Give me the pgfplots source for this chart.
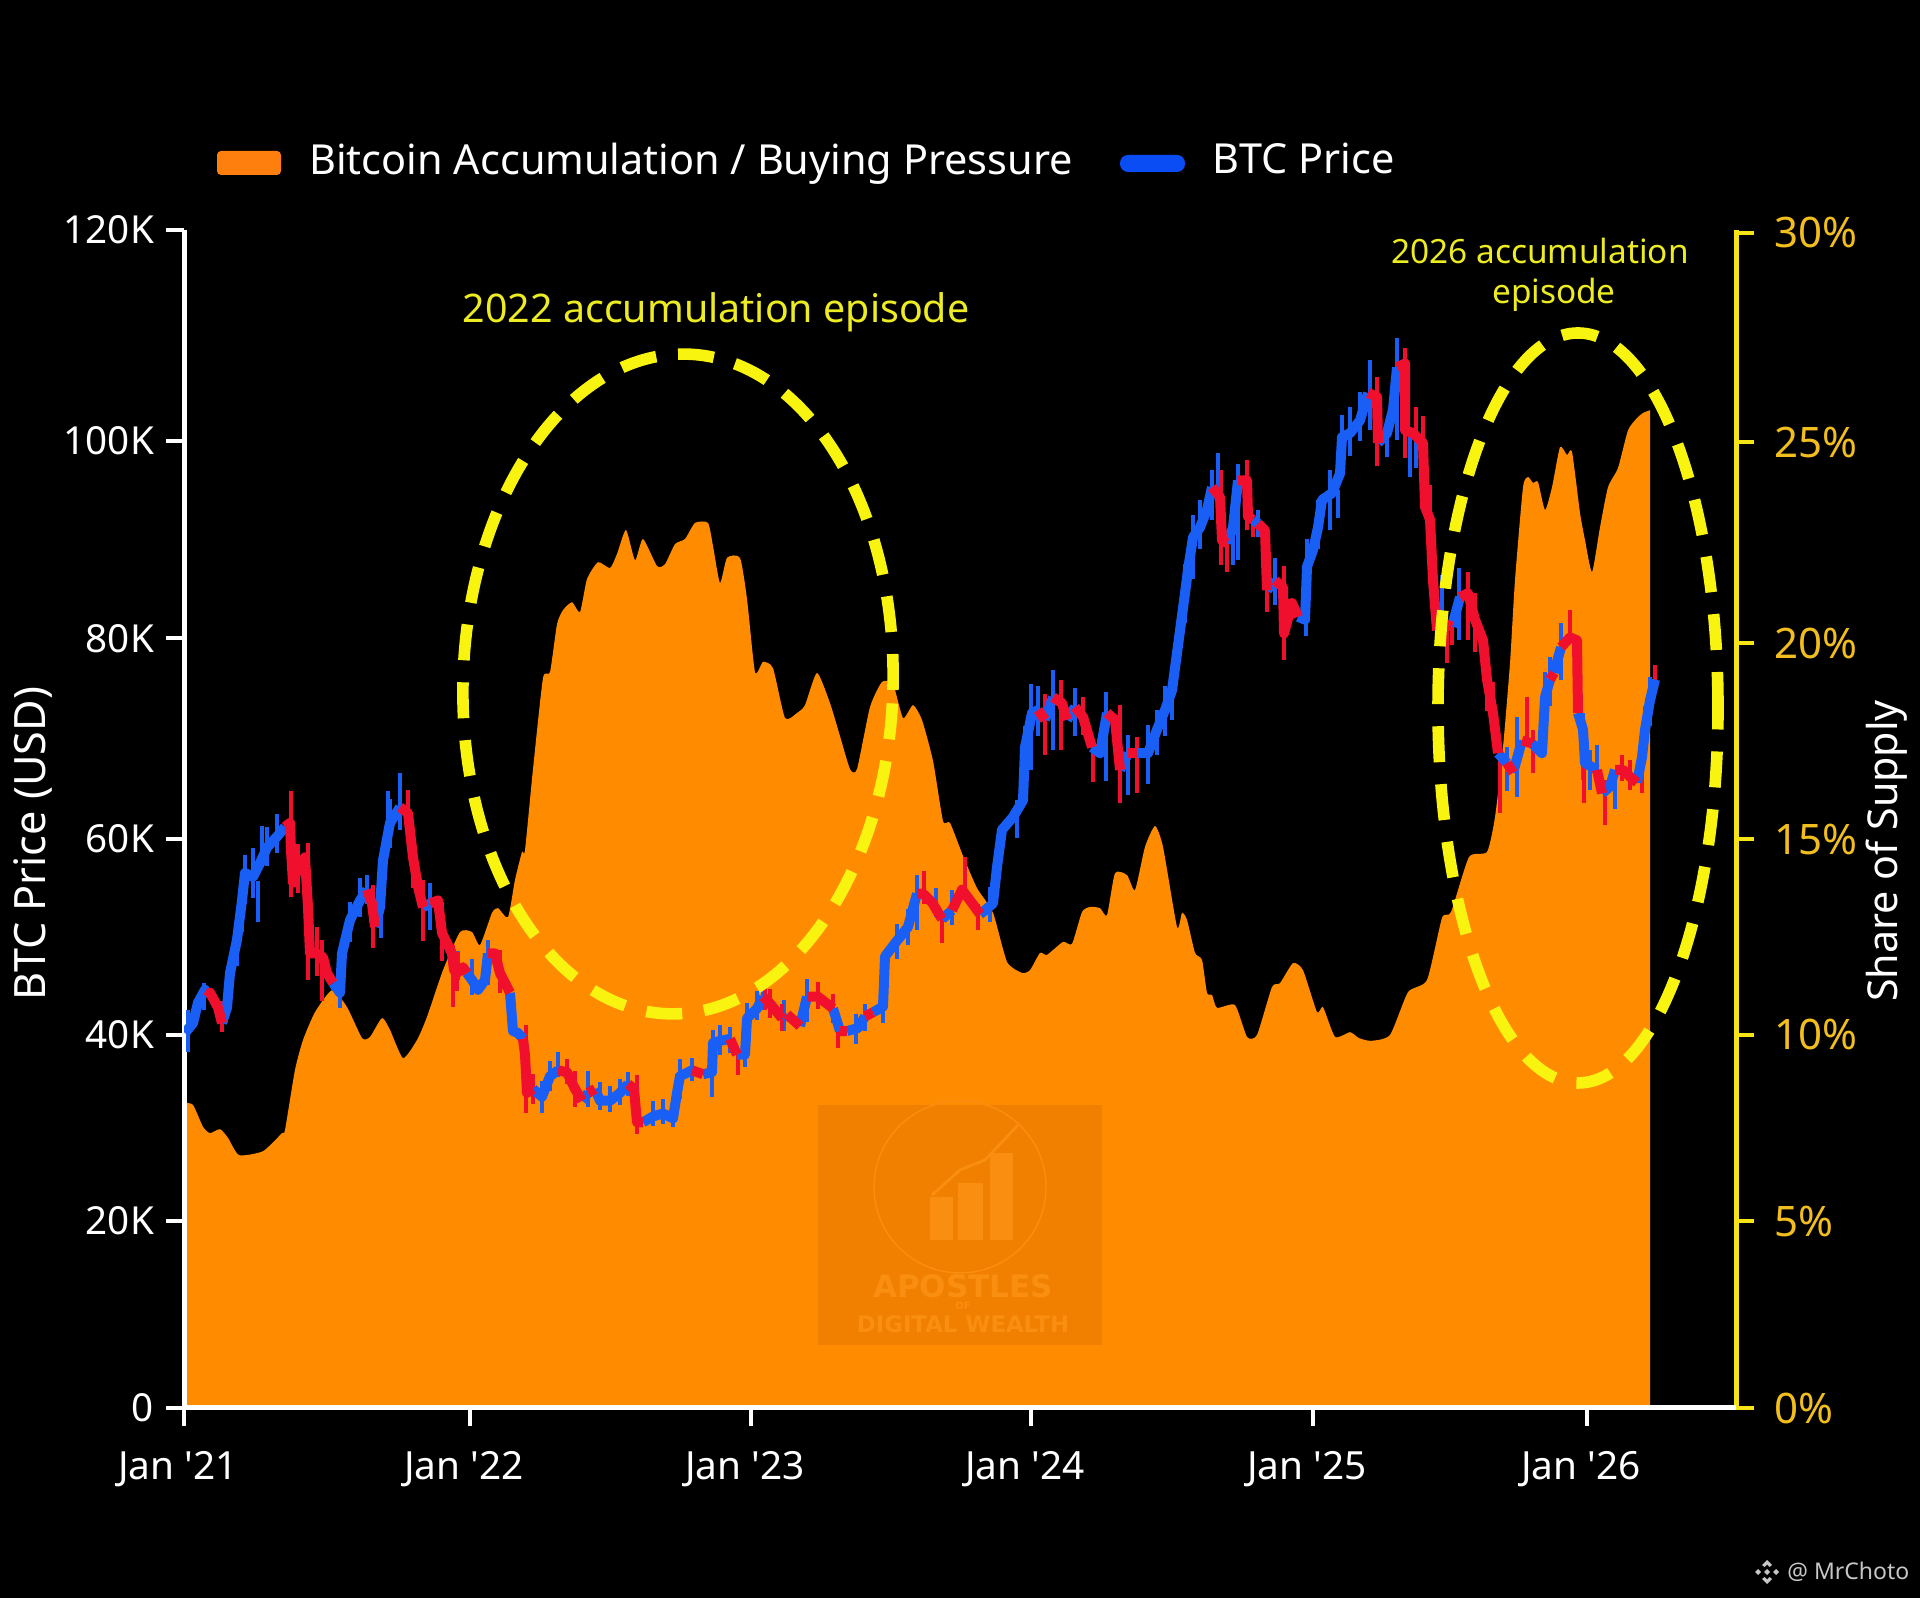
\documentclass[border=0pt]{standalone}
\usepackage{pgfplots}
\usepackage{pgfplotstable}
\usepackage{fontspec}
\setmainfont[Ligatures=TeXOff]{Noto Sans}
\pgfplotsset{compat=1.18}
\definecolor{areaO}{HTML}{FF8C00}
\definecolor{legO}{HTML}{FF7F0E}
\definecolor{legB}{HTML}{0B4DF5}
\definecolor{btcblue}{HTML}{1A5FF5}
\definecolor{btcred}{HTML}{F0102E}
\definecolor{dashY}{HTML}{F8F410}
\definecolor{axY}{HTML}{F6E416}
\definecolor{tickY}{HTML}{F2BE1E}
\definecolor{noteY}{HTML}{EDEB22}
\definecolor{wmA}{HTML}{F18000}
\definecolor{wmB}{HTML}{F98E10}
\pgfplotstableread{
x s
0 7.77
9 7.72
19 7.16
26 7.00
36 7.10
44 6.88
55 6.44
79 6.54
98 7.00
101 7.08
111 8.61
119 9.37
131 10.08
148 10.64
163 10.21
178 9.42
186 9.45
198 9.93
206 9.63
219 8.91
233 9.37
243 9.96
259 11.15
276 12.12
288 12.12
296 11.79
308 12.61
314 12.73
324 12.50
331 13.45
338 14.16
341 14.21
349 16.27
359 18.59
366 18.74
373 19.96
379 20.32
388 20.52
396 20.27
403 21.11
414 21.54
426 21.39
433 21.75
442 22.36
451 21.59
459 22.13
473 21.44
481 21.49
491 22.00
501 22.13
511 22.54
524 22.54
529 21.95
536 21.01
543 21.65
556 21.65
563 20.60
571 18.74
579 19.00
589 18.84
601 17.57
613 17.70
621 17.90
633 18.72
646 17.95
656 17.11
666 16.27
673 16.27
686 17.85
698 18.49
709 18.44
719 17.57
729 17.90
738 17.52
749 16.48
759 14.95
766 14.90
779 14.06
793 13.24
809 12.61
823 11.36
838 11.08
846 11.15
856 11.59
863 11.54
879 11.87
888 11.82
898 12.63
906 12.76
916 12.73
923 12.55
931 13.62
943 13.57
951 13.19
961 14.29
971 14.82
979 14.29
993 12.25
998 12.61
1003 12.43
1011 11.59
1018 11.41
1023 10.57
1028 10.52
1033 10.19
1051 10.26
1063 9.45
1073 9.50
1088 10.72
1096 10.82
1109 11.33
1119 11.15
1133 10.08
1139 10.21
1151 9.45
1166 9.57
1175 9.42
1187 9.35
1206 9.50
1224 10.59
1243 10.90
1258 12.48
1267 12.63
1285 14.03
1303 14.16
1311 15.05
1319 16.83
1326 18.97
1331 21.09
1339 23.45
1344 23.71
1349 23.56
1354 23.58
1361 22.87
1368 23.45
1376 24.47
1383 24.27
1388 24.35
1396 22.79
1401 22.10
1408 21.29
1416 22.43
1424 23.45
1434 23.94
1444 24.90
1453 25.21
1459 25.34
1466 25.41
}\sharetable
\pgfplotstableread{
x y
1 38.2
9 39.2
14 41.3
21 42.6
24 41.9
nan nan
38 39.2
43 40.8
46 44.3
53 47.7
58 51.7
61 54.5
69 54.1
76 55.5
83 57.1
93 58.2
101 59.2
nan nan
149 43.3
156 42.3
158 46.3
166 49.7
176 51.7
183 52.8
nan nan
191 49.0
196 51.0
199 55.8
206 59.6
216 61.2
nan nan
239 51.0
246 51.4
nan nan
283 44.3
288 43.6
294 42.6
301 43.6
304 46.3
nan nan
326 42.3
329 38.4
334 38.2
339 37.6
nan nan
349 32.5
358 31.7
366 33.8
374 34.4
nan nan
398 31.3
404 32.1
nan nan
411 32.5
416 31.3
426 31.3
436 32.1
444 33.0
nan nan
459 29.1
469 29.7
479 30.0
489 29.5
493 32.1
496 33.8
508 34.4
nan nan
519 34.0
528 34.2
529 37.2
536 37.4
546 37.6
nan nan
553 36.0
561 36.0
563 39.7
573 40.7
579 41.9
nan nan
598 39.7
603 40.1
nan nan
616 38.9
623 41.9
nan nan
649 40.7
656 38.4
nan nan
663 38.4
674 38.7
681 39.9
nan nan
689 40.3
699 40.9
701 46.0
713 47.6
724 49.0
733 52.4
nan nan
758 49.8
768 50.7
nan nan
796 50.3
801 50.7
809 51.4
813 55.1
818 58.9
829 60.2
839 61.9
841 67.3
848 70.8
854 71.1
nan nan
861 70.1
869 72.4
nan nan
883 70.1
891 71.4
nan nan
908 67.3
916 66.7
923 70.8
nan nan
936 65.0
944 66.7
nan nan
953 66.7
964 66.7
973 69.1
981 71.1
988 73.1
996 79.2
1001 83.0
1004 85.4
1009 88.7
1016 89.7
1023 91.5
1028 93.8
nan nan
1043 88.1
1049 89.7
1054 94.5
nan nan
1069 90.5
1074 90.1
nan nan
1083 83.3
1091 84.3
nan nan
1114 80.6
1121 80.3
1123 85.7
1129 87.4
1134 89.7
1138 92.5
1148 93.2
1156 95.2
1158 98.9
1166 99.3
1176 100.6
1184 103.4
nan nan
1194 98.3
1203 99.3
1209 101.7
1213 106.0
nan nan
1253 79.2
1258 80.0
nan nan
1268 79.6
1276 82.6
nan nan
1314 66.7
1323 65.7
nan nan
1329 64.7
1338 68.0
nan nan
1348 67.7
1358 66.7
1361 72.4
1366 74.2
nan nan
1370 74.9
1377 77.5
nan nan
1394 70.8
1399 69.1
1401 65.7
1413 65.0
nan nan
1418 62.6
1426 63.3
1431 65.0
nan nan
1453 63.7
1458 66.3
1461 69.1
1466 72.1
1471 74.2
}\blueprice
\pgfplotstableread{
x y
24 41.9
26 42.3
34 40.8
38 39.2
nan nan
101 59.2
106 59.6
107 56.8
109 53.5
114 55.1
121 56.1
124 51.0
126 46.3
133 46.3
139 45.9
143 44.3
149 43.3
nan nan
183 52.8
188 51.4
191 49.0
nan nan
216 61.2
224 60.6
229 56.1
234 53.1
239 51.0
nan nan
246 51.4
254 51.7
258 48.4
268 46.3
270 44.6
273 44.3
279 44.9
283 44.3
nan nan
304 46.3
311 46.3
316 44.3
326 42.3
nan nan
339 37.6
341 36.0
343 32.1
349 32.5
nan nan
374 34.4
383 34.2
391 32.5
398 31.3
nan nan
404 32.1
411 32.5
nan nan
444 33.0
450 32.5
453 29.1
459 29.1
nan nan
508 34.4
519 34.0
nan nan
546 37.6
553 36.0
nan nan
579 41.9
586 41.2
598 39.7
nan nan
603 40.1
616 38.9
nan nan
623 41.9
634 41.9
649 40.7
nan nan
656 38.4
663 38.4
nan nan
681 39.9
689 40.3
nan nan
733 52.4
739 52.4
748 51.5
758 49.8
nan nan
768 50.7
778 52.8
789 51.3
796 50.3
nan nan
854 71.1
861 70.1
nan nan
869 72.4
878 71.8
883 70.1
nan nan
891 71.4
899 70.4
908 67.3
nan nan
923 70.8
931 70.1
936 65.0
nan nan
944 66.7
953 66.7
nan nan
1028 93.8
1036 92.8
1038 88.4
1043 88.1
nan nan
1054 94.5
1063 94.5
1064 90.8
1069 90.5
nan nan
1074 90.1
1081 89.4
1083 83.3
nan nan
1091 84.3
1099 83.6
1100 78.9
1108 82.0
1114 80.6
nan nan
1184 103.4
1193 103.0
1194 98.3
nan nan
1213 106.0
1221 106.4
1221 99.6
1229 99.3
1239 98.3
1241 91.8
1246 90.5
1249 84.3
1253 79.2
nan nan
1258 80.0
1268 79.6
nan nan
1276 82.6
1284 83.0
1291 80.3
1299 78.2
1303 74.2
1309 70.8
1314 66.7
nan nan
1323 65.7
1329 64.7
nan nan
1338 68.0
1348 67.7
nan nan
1366 74.2
1370 74.9
nan nan
1377 77.5
1386 78.5
1393 78.2
1394 70.8
nan nan
1413 65.0
1418 62.6
nan nan
1431 65.0
1439 65.0
1446 64.3
1453 63.7
}\redprice
\pgfplotstableread{
x y e
4 38.4 2.1
20 41.9 1.4
42 40.4 1.2
61 53.8 2.5
74 51.6 2.1
78 57.6 1.7
156 43.4 2.7
183 52.8 1.5
197 49.6 1.7
204 60.9 2.0
216 61.8 2.9
246 51.1 2.4
274 45.1 1.5
288 43.9 1.8
304 45.4 2.3
701 43.6 3.1
733 51.5 2.8
833 60.0 1.9
847 69.4 4.4
869 71.1 4.1
891 70.9 2.4
922 68.4 4.5
944 65.5 3.1
964 66.6 3.0
973 68.8 2.3
988 72.1 2.0
1009 87.7 3.3
1028 93.0 2.5
1034 95.4 1.9
1054 91.3 4.9
1049 88.2 2.3
1074 90.1 1.4
1091 84.2 2.4
1122 81.2 2.6
1146 92.5 3.1
1154 92.1 1.4
1158 98.9 2.3
1186 103.2 3.6
1203 98.5 1.6
1213 103.8 5.2
1232 97.2 1.4
1226 97.2 2.4
1275 81.9 3.7
1258 82.6 2.3
1323 65.1 2.2
1333 66.3 4.1
1377 77.1 2.9
1399 67.4 3.4
1406 65.0 2.0
1431 63.0 2.0
358 31.7 1.6
366 33.8 1.5
374 35.0 1.3
404 32.5 1.8
416 31.8 1.4
426 31.5 1.3
436 32.2 1.3
444 33.0 1.2
469 30.0 1.3
479 30.2 1.3
489 29.8 1.2
493 32.0 2.0
496 33.5 2.0
508 34.5 1.2
528 33.5 1.8
529 37.0 1.5
536 37.5 1.5
546 37.5 1.3
561 36.5 1.8
563 39.5 1.8
573 41.0 1.5
579 42.0 1.5
600 40.0 1.6
623 41.5 2.2
672 38.6 1.5
681 39.8 1.4
699 41.0 1.8
713 47.5 1.8
724 49.0 1.8
752 51.5 1.5
768 51.0 1.8
806 51.3 1.8
53 47.5 2.5
58 51.5 3.0
69 54.5 2.5
83 57.2 2.0
93 58.5 2.0
166 49.5 2.0
176 52.0 2.0
206 59.5 2.5
841 66.5 3.0
854 71.0 2.5
981 71.0 2.5
1001 83.0 3.0
1016 90.0 2.5
1123 85.5 3.0
1134 90.0 2.5
1166 99.5 2.5
1176 101.0 2.5
1361 72.5 2.5
1366 74.0 2.5
1413 65.5 2.0
1461 69.0 2.5
1466 72.0 2.5
}\bluewick
\pgfplotstableread{
x y e
107 57.5 5.4
124 50.6 7.0
138 44.6 3.1
38 39.9 1.6
189 50.1 3.2
224 60.7 2.3
239 50.7 3.1
269 44.0 3.2
342 34.5 4.5
453 30.9 3.0
581 41.8 1.3
654 38.1 1.4
554 35.2 1.3
758 48.8 1.4
781 54.2 1.9
740 53.0 1.7
794 50.0 1.3
861 69.6 3.1
877 70.6 3.6
899 70.5 1.9
909 65.9 2.1
936 66.6 5.0
953 65.5 2.9
1037 90.7 4.8
1043 86.8 1.6
1063 93.0 3.6
1069 89.6 0.9
1083 82.2 1.1
1100 81.0 4.8
1193 100.5 4.5
1221 102.4 5.6
1232 100.3 1.7
1239 98.8 2.2
1284 81.7 3.5
1268 79.0 1.3
1263 78.1 2.2
1316 63.3 2.7
1343 70.2 2.2
1349 66.9 2.2
1386 79.8 1.5
1400 64.8 3.2
1421 61.7 2.3
1438 65.2 1.3
1458 63.8 1.2
1471 74.4 1.3
114 55.0 2.5
133 46.5 2.5
229 56.0 3.0
258 48.5 3.0
273 44.5 2.0
316 44.5 2.2
349 32.5 1.5
383 34.3 1.3
391 32.5 1.8
634 42.0 1.4
649 40.7 1.5
586 41.2 1.5
598 39.8 1.4
1246 90.0 4.0
1249 84.5 4.0
1291 80.0 3.0
1303 74.0 3.0
1309 71.0 3.0
1446 64.5 1.5
}\redwick
\begin{document}
\begin{tikzpicture}[font=\fontsize{18}{21}\selectfont]
\path[use as bounding box, fill=black] (0,0) rectangle (960pt,799pt);
% share of supply: area and right axis
\begin{axis}[
  at={(92pt,95pt)}, anchor=south west, scale only axis,
  width=776pt, height=589pt,
  xmin=0, xmax=1552, ymin=0, ymax=30,
  axis x line=none, axis y line*=right,
  axis line style={-, draw=axY, line width=2.5pt},
  ytick={0,4.76,9.5,14.49,19.48,24.6,29.93},
  yticklabels={0\%,5\%,10\%,15\%,20\%,25\%,30\%},
  tick align=outside, major tick length=9pt,
  ytick style={draw=axY, line width=2pt},
  yticklabel style={text=tickY, font=\fontsize{21}{24}\selectfont, xshift=6.5pt},
]
\addplot[fill=areaO, draw=none, smooth, tension=0.35] table[x=x, y=s] {\sharetable} \closedcycle;
\end{axis}
% watermark
\begin{scope}[x=0.5pt, y=-0.5pt, shift={(0,799pt)}]
\fill[wmA] (818,1105) rectangle (1102,1345);
\draw[wmB, line width=0.7pt] (960,1187) circle[radius=43pt];
\fill[wmB] (930,1197) rectangle (953,1240);
\fill[wmB] (958,1183) rectangle (983,1240);
\fill[wmB] (990,1153) rectangle (1013,1240);
\draw[wmB, line width=1.4pt] (932,1195) -- (960,1170) -- (985,1160) -- (1018,1125);
\node[text=wmB, inner sep=0pt, font=\fontsize{15.5}{15}\fontspec{DejaVu Sans Bold}] at (963,1286) {APOSTLES};
\node[text=wmB, inner sep=0pt, font=\fontsize{5}{5}\fontspec{DejaVu Sans Bold}] at (963,1306) {OF};
\node[text=wmB, inner sep=0pt, font=\fontsize{11.4}{12}\fontspec{DejaVu Sans Bold}] at (963,1324) {DIGITAL WEALTH};
\end{scope}
% BTC price: candles and left / bottom axes
\begin{axis}[
  at={(92pt,95pt)}, anchor=south west, scale only axis,
  width=776pt, height=589pt,
  xmin=0, xmax=1552, ymin=0, ymax=120,
  axis y line*=left, axis x line*=bottom,
  axis line style={-, draw=white, line width=2.5pt},
  unbounded coords=jump,
  xtick={0,286,567,847,1129,1403},
  xticklabels={{Jan '21},{Jan '22},{Jan '23},{Jan '24},{Jan '25},{Jan '26}},
  ytick={0,19.05,38,58,78.4,98.5,120},
  yticklabels={0,20K,40K,60K,80K,100K,120K},
  tick align=outside, major tick length=9pt,
  tick style={draw=white, line width=2pt},
  yticklabel style={text=white, font=\fontsize{19.3}{22}\selectfont, xshift=-2.5pt},
  xticklabel style={text=white, font=\fontsize{19.4}{22}\selectfont, xshift=-3pt, yshift=-9pt},
]
\addplot[draw=none, forget plot, error bars/.cd, y dir=both, y explicit, error mark=none,
  error bar style={draw=btcblue, line width=2pt}] table[x=x, y=y, y error=e] {\bluewick};
\addplot[draw=none, forget plot, error bars/.cd, y dir=both, y explicit, error mark=none,
  error bar style={draw=btcred, line width=2pt}] table[x=x, y=y, y error=e] {\redwick};
\addplot[draw=btcblue, line width=5pt, line join=round, forget plot] table[x=x, y=y] {\blueprice};
\addplot[draw=btcred, line width=5pt, line join=round, forget plot] table[x=x, y=y] {\redprice};
\end{axis}
% annotations, legend, labels
\begin{scope}[x=0.5pt, y=-0.5pt, shift={(0,799pt)}]
\draw[dashY, line width=5.8pt, dash pattern=on 18pt off 11pt]
  (678,684) ellipse[x radius=107.5pt, y radius=165pt, rotate=-1.6];
\draw[dashY, line width=5.8pt, dash pattern=on 18pt off 11pt]
  (1578,708) ellipse[x radius=70pt, y radius=187.5pt];
\node[text=noteY, font=\fontsize{19.7}{23}\selectfont] at (716,312) {2022 accumulation episode};
\node[text=noteY, font=\fontsize{16.7}{20}\selectfont, align=center] at (1540,275) {2026 accumulation\\\hspace*{14pt}episode};
\fill[legO, rounded corners=2pt] (217,151) rectangle (281,175);
\fill[legB, rounded corners=4pt] (1120,155) rectangle (1185,172);
\node[text=white, anchor=base west, inner sep=0pt, font=\fontsize{20.7}{24}\selectfont] at (309,175) {Bitcoin Accumulation / Buying Pressure};
\node[text=white, anchor=base west, inner sep=0pt, font=\fontsize{20.7}{24}\selectfont] at (1212,174) {BTC Price};
\node[text=white, rotate=90, font=\fontsize{21.6}{24}\selectfont] at (33,844) {BTC Price (USD)};
\node[text=white, rotate=90, font=\fontsize{20.6}{24}\selectfont] at (1887,851) {Share of Supply};
% Binance mark and handle
\begin{scope}[shift={(1767,1572)}]
\fill[gray!45!white] (0,-12) -- (5,-7) -- (2.5,-5) -- (0,-7.5) -- (-2.5,-5) -- (-5,-7) -- cycle;
\fill[gray!45!white] (0,12) -- (5,7) -- (2.5,5) -- (0,7.5) -- (-2.5,5) -- (-5,7) -- cycle;
\fill[gray!45!white] (0,-3) -- (3,0) -- (0,3) -- (-3,0) -- cycle;
\fill[gray!45!white] (-12,0) -- (-9,-3) -- (-6,0) -- (-9,3) -- cycle;
\fill[gray!45!white] (12,0) -- (9,-3) -- (6,0) -- (9,3) -- cycle;
\end{scope}
\node[text=gray!45!white, anchor=west, inner sep=0pt, font=\fontsize{11.5}{14}\selectfont] at (1787,1572) {@ MrChoto};
\end{scope}
\end{tikzpicture}
\end{document}
